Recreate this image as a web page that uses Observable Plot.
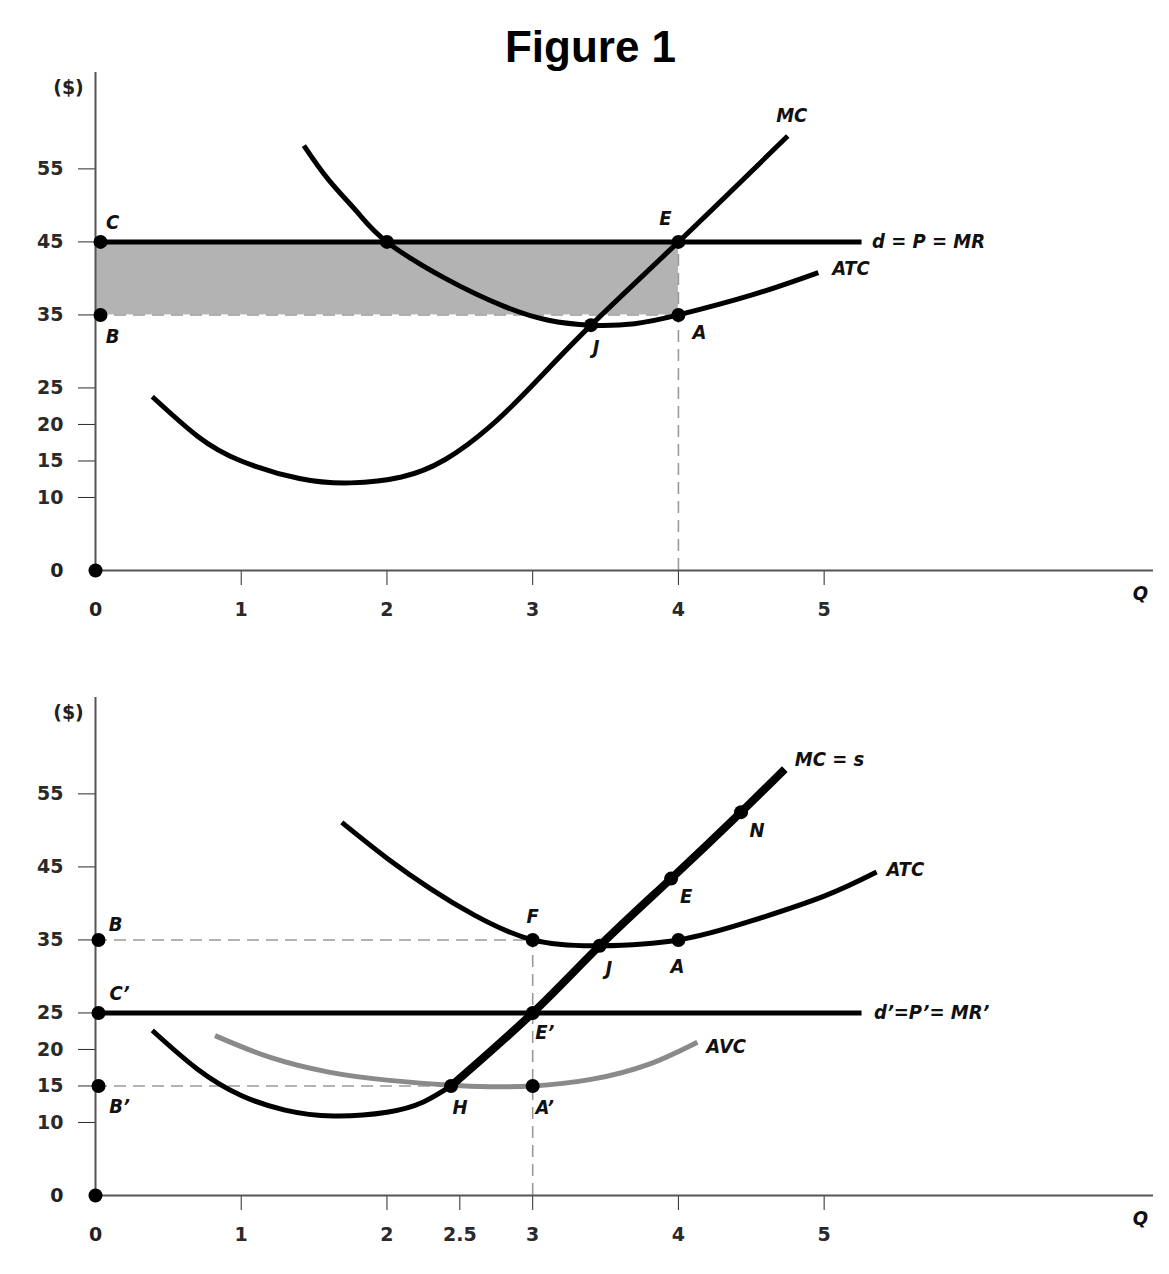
<!DOCTYPE html>
<html>
<head>
<meta charset="utf-8">
<script src="https://cdn.jsdelivr.net/npm/d3@7"></script>
<script src="https://cdn.jsdelivr.net/npm/@observablehq/plot@0.6"></script>
<style>
  html, body { margin: 0; padding: 0; background: #fff; }
  body { position: relative; width: 1169px; height: 1274px; overflow: hidden; }
  #title { position: absolute; z-index: 5; top: 25px; left: 6px; width: 1169px; text-align: center;
           font-family: "Liberation Sans", Arial, sans-serif; font-weight: bold; font-size: 44px; line-height: 44px; color: #000; }
  #topPanel { position: absolute; top: 62px; left: 0; }
  #bottomPanel { position: absolute; top: 630px; left: 0; }
</style>
</head>
<body>
<div id="title">Figure 1</div>
<div id="topPanel"></div>
<div id="bottomPanel"></div>
<script>
// ---------- data ----------
const yTicks = [0, 10, 15, 20, 25, 35, 45, 55];
const xTicksTop = [0, 1, 2, 3, 4, 5];
const xTicksBottom = [0, 1, 2, 2.5, 3, 4, 5];

// Top panel (profit)
const topPrice = 45;
const topQ = 4;
const topATCatQ = 35;
const topDemandEnd = 5.26;
const topMC = [[0.39,23.8],[0.7,18.4],[1.0,15.0],[1.4,12.6],[1.75,12.0],[2.1,12.8],[2.4,15.2],[2.7,19.6],[3.0,25.4],[3.4,33.6],[4.0,45.0],[4.75,59.5]];
const topATC = [[1.43,58.2],[1.6,53.5],[1.8,49.0],[2.0,45.0],[2.4,40.0],[2.8,36.2],[3.1,34.3],[3.4,33.6],[3.7,33.8],[4.0,35.0],[4.5,37.7],[4.96,40.8]];
const topAxisPoints = [{q:0,p:45,label:"C"},{q:0,p:35,label:"B"}];
const topPoints = [{q:0,p:0,label:""},{q:2,p:45,label:""},{q:4,p:45,label:"E"},{q:3.4,p:33.6,label:"J"},{q:4,p:35,label:"A"}];
const topCurveLabels = [{q:4.75,p:59.5,label:"MC"},{q:4.96,p:40.8,label:"ATC"},{q:5.26,p:45,label:"d = P = MR"}];

// Bottom panel (loss / shutdown)
const botPrice = 25;
const botQ = 3;
const botATCatQ = 35;
const botAVCatQ = 15;
const botDemandEnd = 5.26;
const botMCLow = [[0.39,22.6],[0.7,17.3],[1.0,13.7],[1.3,11.7],[1.63,10.9],[2.0,11.4],[2.25,12.8],[2.44,15.0]];
const botMCHigh = [[2.44,15.0],[3.0,25.0],[3.46,34.2],[3.95,43.4],[4.43,52.5],[4.73,58.4]];
const botATC = [[1.69,51.1],[2.0,46.2],[2.3,42.0],[2.6,38.4],[3.0,35.0],[3.46,34.2],[4.0,35.0],[4.5,37.6],[5.0,41.0],[5.36,44.3]];
const botAVC = [[0.82,21.9],[1.2,18.9],[1.6,16.9],[2.0,15.8],[2.44,15.1],[2.7,14.9],[3.0,15.0],[3.4,15.9],[3.8,18.0],[4.13,21.0]];
const botAxisPoints = [{q:0,p:35,label:"B"},{q:0,p:25,label:"C\u2019"},{q:0,p:15,label:"B\u2019"}];
const botPoints = [{q:0,p:0,label:""},{q:3,p:35,label:"F"},{q:3.46,p:34.2,label:"J"},{q:4,p:35,label:"A"},{q:3.95,p:43.4,label:"E"},{q:4.43,p:52.5,label:"N"},{q:3,p:25,label:"E\u2019"},{q:2.44,p:15,label:"H"},{q:3,p:15,label:"A\u2019"}];
const botCurveLabels = [{q:4.73,p:58.4,label:"MC = s"},{q:5.36,p:44.3,label:"ATC"},{q:4.13,p:21.0,label:"AVC"},{q:5.26,p:25,label:"d\u2019=P\u2019= MR\u2019"}];

// ---------- styling / layout ----------
const W = 1169, xMax = 7.26, yMax = 68.2;
const labelFont = "'Liberation Sans Narrow', 'DejaVu Sans Condensed', 'Liberation Sans', sans-serif";
const tickFont = "'DejaVu Sans', sans-serif";
const tickSizePx = 19;
const dash = "12,7";
const dashColor = "#9a9a9a";
const curveW = 5, thickW = 8, dotR = 7;

const topLabelOffsets = {C:[17,-19], B:[17,22], E:[-13,-23], J:[5,22], A:[21,18]};
const topCurveOffsets = {"MC":[["middle"],4,-20], "ATC":[["start"],14,-4], "d = P = MR":[["start"],10,0]};
const botLabelOffsets = {"B":[20,-15], "C\u2019":[24,-19], "B\u2019":[24,21], "F":[0,-23], "J":[9,23], "A":[-1,27], "E":[15,18], "N":[16,18], "E\u2019":[12,20], "H":[9,22], "A\u2019":[12,22]};
const botCurveOffsets = {"MC = s":[["start"],10,-9], "ATC":[["start"],10,-2], "AVC":[["start"],9,4], "d\u2019=P\u2019= MR\u2019":[["start"],12,0]};

function toObjs(arr){ return arr.map(([q,p]) => ({q, p})); }

function labelMarks(points, offsets){
  return points.filter(d => d.label).map(d => Plot.text([d], {
    x: "q", y: "p", text: "label", dx: offsets[d.label][0], dy: offsets[d.label][1],
    fontFamily: labelFont, fontStyle: "italic", fontWeight: "bold", fontSize: 20, fill: "#111"
  }));
}
function curveLabelMarks(points, offsets){
  return points.map(d => Plot.text([d], {
    x: "q", y: "p", text: "label", textAnchor: offsets[d.label][0][0], dx: offsets[d.label][1], dy: offsets[d.label][2],
    fontFamily: labelFont, fontStyle: "italic", fontWeight: "bold", fontSize: 20, fill: "#111"
  }));
}
function axisMarks(){
  return [
    Plot.ruleX([0], {y1: 0, y2: yMax, stroke: "#555", strokeWidth: 2}),
    Plot.ruleY([0], {x1: 0, x2: xMax, stroke: "#555", strokeWidth: 2}),
    Plot.text(["($)"], {frameAnchor: "top-left", textAnchor: "middle", lineAnchor: "middle", text: d => d, dx: -27, dy: 15, fontFamily: tickFont, fontWeight: "bold", fontSize: tickSizePx, fill: "#222"}),
    Plot.text(["Q"], {frameAnchor: "bottom-right", textAnchor: "middle", lineAnchor: "middle", text: d => d, dx: -13, dy: 23, fontFamily: labelFont, fontStyle: "italic", fontWeight: "bold", fontSize: 20, fill: "#111"}),
    Plot.text([0], {x: 0, y: 0, text: d => String(d), textAnchor: "end", dx: -32, fontFamily: tickFont, fontWeight: "bold", fontSize: tickSizePx, fill: "#222"}),
    Plot.text([0], {x: 0, y: 0, text: d => String(d), lineAnchor: "top", dy: 32, fontFamily: tickFont, fontWeight: "bold", fontSize: tickSizePx, fill: "#222"})
  ];
}
function baseOptions(height, marginTop, marginBottom, xTicks){
  return {
    width: W, height, marginLeft: 95, marginRight: 16, marginTop, marginBottom,
    x: {domain: [0, xMax], ticks: xTicks.filter(d => d !== 0), tickSize: 15, tickPadding: 17, label: null, tickFormat: d => String(d)},
    y: {domain: [0, yMax], ticks: yTicks.filter(d => d !== 0), tickSize: 17, tickPadding: 15, label: null, tickFormat: d => String(d)},
    style: {fontFamily: tickFont, fontSize: tickSizePx + "px", fontWeight: "bold", color: "#2a2a2a", background: "transparent"}
  };
}

// ---------- top chart ----------
const topChart = Plot.plot({
  ...baseOptions(568, 10, 60, xTicksTop),
  marks: [
    Plot.rect([{q1: 0, q2: topQ, p1: topATCatQ, p2: topPrice}], {x1: "q1", x2: "q2", y1: "p1", y2: "p2", fill: "#b3b3b3"}),
    Plot.ruleY([topATCatQ], {x1: 0, x2: topQ, stroke: dashColor, strokeWidth: 1.6, strokeDasharray: dash}),
    Plot.ruleX([topQ], {y1: 0, y2: topPrice, stroke: dashColor, strokeWidth: 1.6, strokeDasharray: dash}),
    ...axisMarks(),
    Plot.ruleY([topPrice], {x1: 0, x2: topDemandEnd, stroke: "#000", strokeWidth: curveW}),
    Plot.line(toObjs(topMC), {x: "q", y: "p", curve: "natural", stroke: "#000", strokeWidth: curveW, strokeLinecap: "butt"}),
    Plot.line(toObjs(topATC), {x: "q", y: "p", curve: "natural", stroke: "#000", strokeWidth: curveW, strokeLinecap: "butt"}),
    Plot.dot(topAxisPoints, {x: "q", y: "p", r: dotR, fill: "#000", dx: 5}),
    Plot.dot(topPoints, {x: "q", y: "p", r: dotR, fill: "#000"}),
    ...labelMarks(topAxisPoints, topLabelOffsets),
    ...labelMarks(topPoints, topLabelOffsets),
    ...curveLabelMarks(topCurveLabels, topCurveOffsets)
  ]
});
document.getElementById("topPanel").append(topChart);

// ---------- bottom chart ----------
const bottomChart = Plot.plot({
  ...baseOptions(644, 67, 79, xTicksBottom),
  marks: [
    Plot.ruleY([botATCatQ], {x1: 0, x2: botQ, stroke: dashColor, strokeWidth: 1.6, strokeDasharray: dash}),
    Plot.ruleY([botAVCatQ], {x1: 0, x2: botQ, stroke: dashColor, strokeWidth: 1.6, strokeDasharray: dash}),
    Plot.ruleX([botQ], {y1: 0, y2: botATCatQ, stroke: dashColor, strokeWidth: 1.6, strokeDasharray: dash}),
    ...axisMarks(),
    Plot.ruleY([botPrice], {x1: 0, x2: botDemandEnd, stroke: "#000", strokeWidth: curveW}),
    Plot.line(toObjs(botAVC), {x: "q", y: "p", curve: "natural", stroke: "#8a8a8a", strokeWidth: curveW, strokeLinecap: "butt"}),
    Plot.line(toObjs(botATC), {x: "q", y: "p", curve: "natural", stroke: "#000", strokeWidth: curveW, strokeLinecap: "butt"}),
    Plot.line(toObjs(botMCLow), {x: "q", y: "p", curve: "natural", stroke: "#000", strokeWidth: curveW, strokeLinecap: "butt"}),
    Plot.line(toObjs(botMCHigh), {x: "q", y: "p", curve: "natural", stroke: "#000", strokeWidth: thickW, strokeLinecap: "butt"}),
    Plot.dot(botAxisPoints, {x: "q", y: "p", r: dotR, fill: "#000", dx: 3}),
    Plot.dot(botPoints, {x: "q", y: "p", r: dotR, fill: "#000"}),
    ...labelMarks(botAxisPoints, botLabelOffsets),
    ...labelMarks(botPoints, botLabelOffsets),
    ...curveLabelMarks(botCurveLabels, botCurveOffsets)
  ]
});
document.getElementById("bottomPanel").append(bottomChart);
</script>
</body>
</html>
